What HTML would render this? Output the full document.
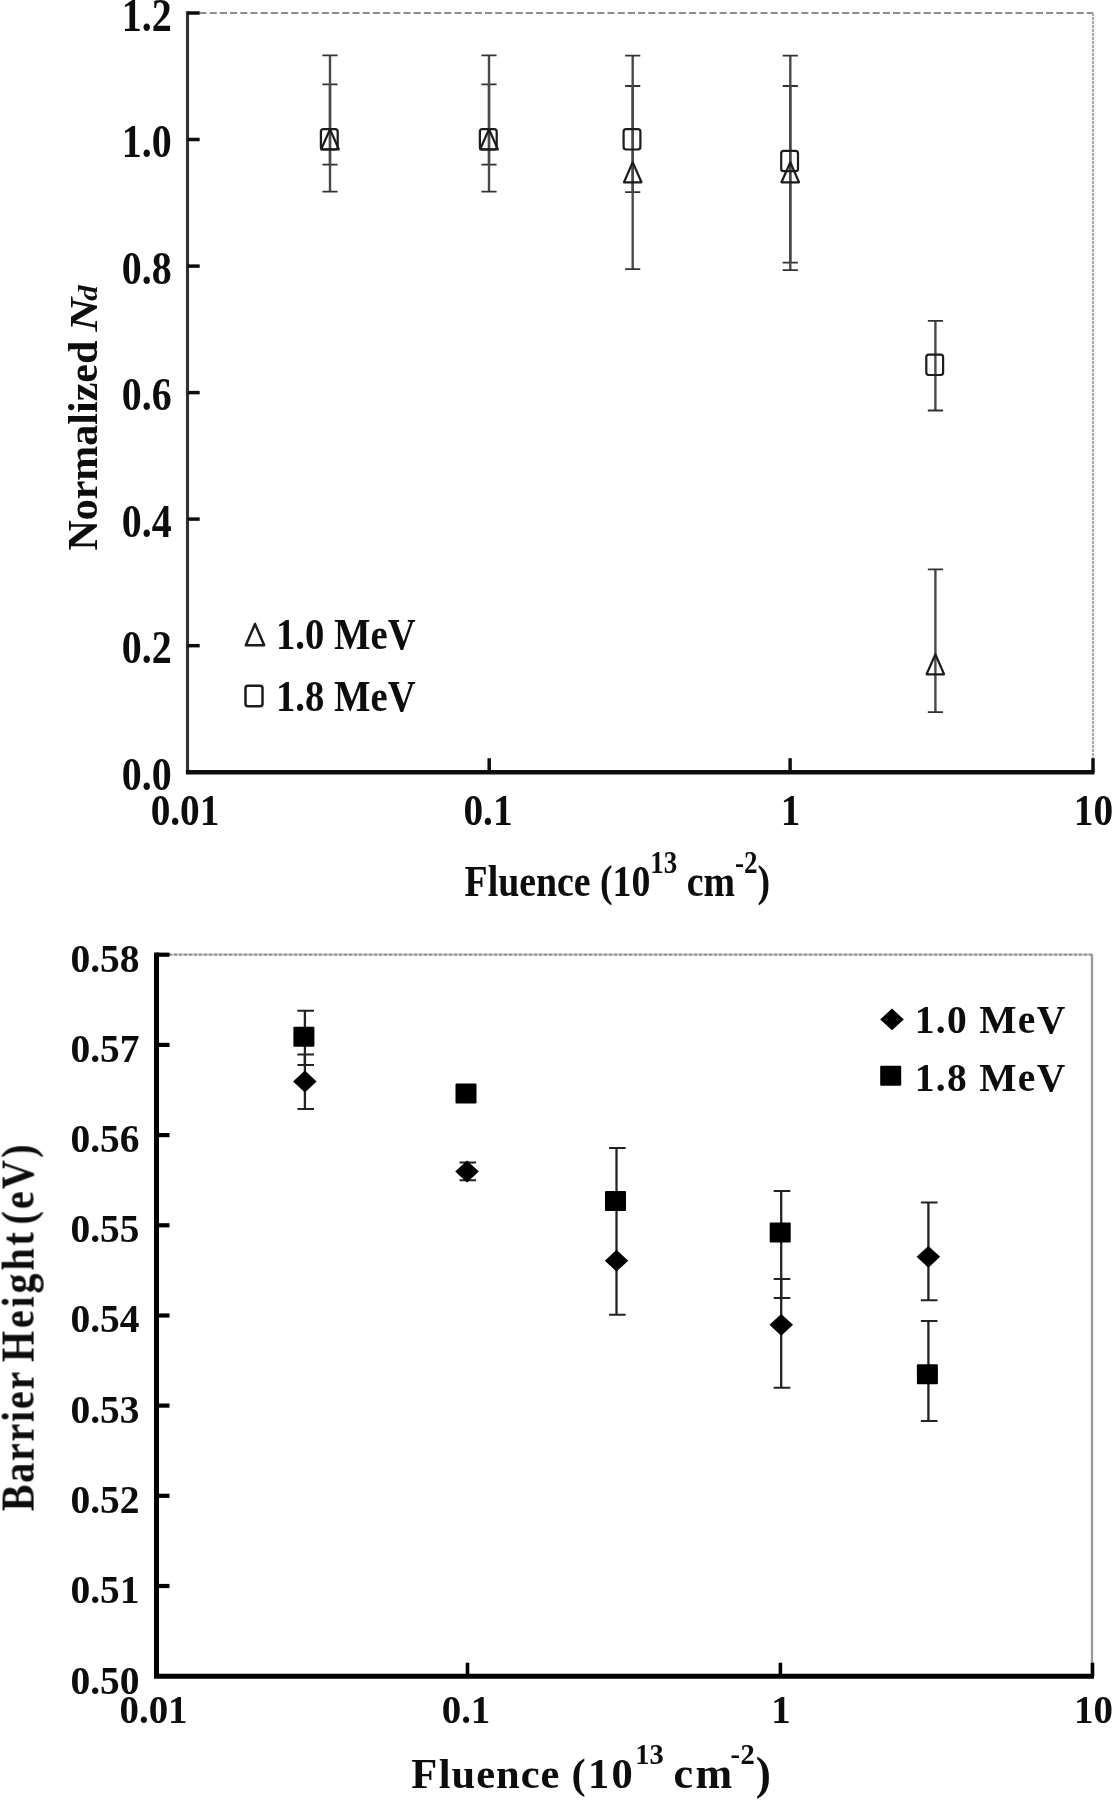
<!DOCTYPE html>
<html lang="en"><head><meta charset="utf-8"><title>Normalized Nd and Barrier Height vs Fluence</title>
<style>html,body{margin:0;padding:0;background:#fff}svg{display:block}text{fill:#0a0a0a}</style></head><body>
<svg width="1114" height="1800" viewBox="0 0 1114 1800" font-family="'Liberation Serif', 'DejaVu Serif', serif" font-weight="bold">
<rect width="1114" height="1800" fill="#fff"/>
<defs><filter id="soft" x="0" y="0" width="100%" height="100%" filterUnits="userSpaceOnUse"><feGaussianBlur stdDeviation="0.45"/></filter></defs>
<g filter="url(#soft)">
<path d="M199.5,13.0H1093.0" stroke="#8c8c8c" stroke-width="1.8" stroke-dasharray="7,3.2" fill="none"/>
<path d="M1093.0,13.0V772.2" stroke="#a8a8a8" stroke-width="2" stroke-dasharray="3,1" fill="none"/>
<path d="M187.5,11.3V772.2" stroke="#333" stroke-width="3.1" fill="none"/>
<path d="M185.9,772.2H1094.5" stroke="#111" stroke-width="4.6" fill="none"/>
<text transform="translate(171.60,789.90) scale(1.0,1.16)" font-size="39.9" text-anchor="end" >0.0</text>
<path d="M187.5,645.7H199.7" stroke="#111" stroke-width="3.5" fill="none"/>
<text transform="translate(171.60,663.37) scale(1.0,1.16)" font-size="39.9" text-anchor="end" >0.2</text>
<path d="M187.5,519.1H199.7" stroke="#111" stroke-width="3.5" fill="none"/>
<text transform="translate(171.60,536.83) scale(1.0,1.16)" font-size="39.9" text-anchor="end" >0.4</text>
<path d="M187.5,392.6H199.7" stroke="#111" stroke-width="3.5" fill="none"/>
<text transform="translate(171.60,410.30) scale(1.0,1.16)" font-size="39.9" text-anchor="end" >0.6</text>
<path d="M187.5,266.1H199.7" stroke="#111" stroke-width="3.5" fill="none"/>
<text transform="translate(171.60,283.77) scale(1.0,1.16)" font-size="39.9" text-anchor="end" >0.8</text>
<path d="M187.5,139.5H199.7" stroke="#111" stroke-width="3.5" fill="none"/>
<text transform="translate(171.60,157.23) scale(1.0,1.16)" font-size="39.9" text-anchor="end" >1.0</text>
<path d="M187.5,13.0H199.7" stroke="#111" stroke-width="3.5" fill="none"/>
<text transform="translate(171.60,30.70) scale(1.0,1.16)" font-size="39.9" text-anchor="end" >1.2</text>
<path d="M489.2,772.2V758.2" stroke="#111" stroke-width="3.5" fill="none"/>
<path d="M790.1,772.2V758.2" stroke="#111" stroke-width="3.5" fill="none"/>
<path d="M1093.0,772.2V758.2" stroke="#111" stroke-width="3.5" fill="none"/>
<text transform="translate(185.00,824.80) scale(1.0,1.14)" font-size="39.3" text-anchor="middle" >0.01</text>
<text transform="translate(488.00,824.80) scale(1.0,1.14)" font-size="39.3" text-anchor="middle" >0.1</text>
<text transform="translate(790.50,824.80) scale(1.0,1.14)" font-size="39.3" text-anchor="middle" >1</text>
<text transform="translate(1093.40,824.80) scale(1.0,1.14)" font-size="39.3" text-anchor="middle" >10</text>
<text transform="translate(464.60,896.30) scale(1.0,1.17)" font-size="37.8" text-anchor="start" >Fluence (10<tspan font-size="27" dy="-19.5">13</tspan><tspan dy="19.5"> cm</tspan><tspan font-size="27" dy="-19.5">-2</tspan><tspan dy="19.5">)</tspan></text>
<text transform="translate(96.7,550.6) rotate(-90)" font-size="42" text-anchor="start">Normalized</text>
<text transform="translate(96.7,331.5) rotate(-90) scale(1.14,1)" font-size="41" font-style="italic" text-anchor="start">N</text>
<text transform="translate(97.2,300.8) rotate(-90) scale(1.1,1)" font-size="28" font-style="italic" text-anchor="start">d</text>
<path d="M330.0,84.3V164.7" stroke="#484848" stroke-width="2.4" fill="none"/>
<path d="M322.4,84.3H337.6M322.4,164.7H337.6" stroke="#333" stroke-width="1.8" fill="none"/>
<path d="M489.0,84.3V164.7" stroke="#484848" stroke-width="2.4" fill="none"/>
<path d="M481.4,84.3H496.6M481.4,164.7H496.6" stroke="#333" stroke-width="1.8" fill="none"/>
<path d="M632.7,86.0V192.2" stroke="#484848" stroke-width="2.4" fill="none"/>
<path d="M625.1,86.0H640.3M625.1,192.2H640.3" stroke="#333" stroke-width="1.8" fill="none"/>
<path d="M790.3,86.0V262.6" stroke="#484848" stroke-width="2.4" fill="none"/>
<path d="M782.7,86.0H797.9M782.7,262.6H797.9" stroke="#333" stroke-width="1.8" fill="none"/>
<path d="M935.4,320.9V410.5" stroke="#484848" stroke-width="2.4" fill="none"/>
<path d="M927.8,320.9H943.0M927.8,410.5H943.0" stroke="#333" stroke-width="1.8" fill="none"/>
<path d="M330.0,55.4V191.6" stroke="#484848" stroke-width="2.4" fill="none"/>
<path d="M322.4,55.4H337.6M322.4,191.6H337.6" stroke="#333" stroke-width="1.8" fill="none"/>
<path d="M489.0,55.4V191.6" stroke="#484848" stroke-width="2.4" fill="none"/>
<path d="M481.4,55.4H496.6M481.4,191.6H496.6" stroke="#333" stroke-width="1.8" fill="none"/>
<path d="M632.7,55.7V269.1" stroke="#484848" stroke-width="2.4" fill="none"/>
<path d="M625.1,55.7H640.3M625.1,269.1H640.3" stroke="#333" stroke-width="1.8" fill="none"/>
<path d="M790.3,55.7V270.2" stroke="#484848" stroke-width="2.4" fill="none"/>
<path d="M782.7,55.7H797.9M782.7,270.2H797.9" stroke="#333" stroke-width="1.8" fill="none"/>
<path d="M935.4,569.4V712.1" stroke="#484848" stroke-width="2.4" fill="none"/>
<path d="M927.8,569.4H943.0M927.8,712.1H943.0" stroke="#333" stroke-width="1.8" fill="none"/>
<rect x="320.9" y="129.2" width="16.8" height="20.3" rx="2.5" fill="none" stroke="#1c1c1c" stroke-width="2.2"/>
<rect x="479.9" y="129.2" width="16.8" height="20.3" rx="2.5" fill="none" stroke="#1c1c1c" stroke-width="2.2"/>
<rect x="623.6" y="129.2" width="16.8" height="20.3" rx="2.5" fill="none" stroke="#1c1c1c" stroke-width="2.2"/>
<rect x="781.2" y="150.9" width="16.8" height="20.3" rx="2.5" fill="none" stroke="#1c1c1c" stroke-width="2.2"/>
<rect x="926.3" y="354.7" width="16.8" height="20.3" rx="2.5" fill="none" stroke="#1c1c1c" stroke-width="2.2"/>
<path d="M330.0,129.3L338.8,149.3H321.2Z" fill="none" stroke="#1c1c1c" stroke-width="2.2" stroke-linejoin="round"/>
<path d="M489.0,129.3L497.8,149.3H480.2Z" fill="none" stroke="#1c1c1c" stroke-width="2.2" stroke-linejoin="round"/>
<path d="M632.7,162.3L641.5,182.3H624.0Z" fill="none" stroke="#1c1c1c" stroke-width="2.2" stroke-linejoin="round"/>
<path d="M790.3,162.3L799.0,182.3H781.5Z" fill="none" stroke="#1c1c1c" stroke-width="2.2" stroke-linejoin="round"/>
<path d="M935.4,654.3L944.1,674.3H926.6Z" fill="none" stroke="#1c1c1c" stroke-width="2.2" stroke-linejoin="round"/>
<path d="M255.0,624.0L264.2,645.2H245.8Z" fill="none" stroke="#1c1c1c" stroke-width="2.5" stroke-linejoin="round"/>
<rect x="245.5" y="685.8" width="17" height="20.5" rx="2.5" fill="none" stroke="#1c1c1c" stroke-width="2.5"/>
<text transform="translate(276.00,649.00) scale(1.0,1.15)" font-size="38.7" text-anchor="start" >1.0 MeV</text>
<text transform="translate(276.00,711.00) scale(1.0,1.15)" font-size="38.7" text-anchor="start" >1.8 MeV</text>
<path d="M168.5,954.7H1092.5" stroke="#909090" stroke-width="2.2" stroke-dasharray="4,1" fill="none"/>
<path d="M1092.0,954.7V1676.2" stroke="#9a9a9a" stroke-width="2.3" fill="none"/>
<path d="M156.5,952.4000000000001V1676.2" stroke="#000" stroke-width="5" fill="none"/>
<path d="M154.0,1676.2H1094.0" stroke="#000" stroke-width="5" fill="none"/>
<text transform="translate(139.50,1694.20) scale(1.0,1.0)" font-size="39.5" text-anchor="end" >0.50</text>
<path d="M156.5,1586.0H169.5" stroke="#000" stroke-width="4.2" fill="none"/>
<text transform="translate(139.50,1603.01) scale(1.0,1.0)" font-size="39.5" text-anchor="end" >0.51</text>
<path d="M156.5,1495.8H169.5" stroke="#000" stroke-width="4.2" fill="none"/>
<text transform="translate(139.50,1512.83) scale(1.0,1.0)" font-size="39.5" text-anchor="end" >0.52</text>
<path d="M156.5,1405.6H169.5" stroke="#000" stroke-width="4.2" fill="none"/>
<text transform="translate(139.50,1422.64) scale(1.0,1.0)" font-size="39.5" text-anchor="end" >0.53</text>
<path d="M156.5,1315.5H169.5" stroke="#000" stroke-width="4.2" fill="none"/>
<text transform="translate(139.50,1332.45) scale(1.0,1.0)" font-size="39.5" text-anchor="end" >0.54</text>
<path d="M156.5,1225.3H169.5" stroke="#000" stroke-width="4.2" fill="none"/>
<text transform="translate(139.50,1242.26) scale(1.0,1.0)" font-size="39.5" text-anchor="end" >0.55</text>
<path d="M156.5,1135.1H169.5" stroke="#000" stroke-width="4.2" fill="none"/>
<text transform="translate(139.50,1152.08) scale(1.0,1.0)" font-size="39.5" text-anchor="end" >0.56</text>
<path d="M156.5,1044.9H169.5" stroke="#000" stroke-width="4.2" fill="none"/>
<text transform="translate(139.50,1061.89) scale(1.0,1.0)" font-size="39.5" text-anchor="end" >0.57</text>
<path d="M156.5,954.7H169.5" stroke="#000" stroke-width="4.2" fill="none"/>
<text transform="translate(139.50,971.70) scale(1.0,1.0)" font-size="39.5" text-anchor="end" >0.58</text>
<path d="M467.5,1676.2V1662.7" stroke="#000" stroke-width="3.6" fill="none"/>
<path d="M780.4,1676.2V1662.7" stroke="#000" stroke-width="3.6" fill="none"/>
<path d="M1092.5,1676.2V1662.7" stroke="#000" stroke-width="3.6" fill="none"/>
<text transform="translate(153.50,1723.00) scale(1.0,1.02)" font-size="38.9" text-anchor="middle" >0.01</text>
<text transform="translate(466.00,1723.00) scale(1.0,1.02)" font-size="38.9" text-anchor="middle" >0.1</text>
<text transform="translate(781.00,1723.00) scale(1.0,1.02)" font-size="38.9" text-anchor="middle" >1</text>
<text transform="translate(1093.40,1723.00) scale(1.0,1.02)" font-size="38.9" text-anchor="middle" >10</text>
<text transform="translate(0,1788)" font-size="42.5" letter-spacing="1"><tspan x="411.2">F</tspan><tspan x="438.8">luence</tspan><tspan x="571.6" letter-spacing="2.2">(10</tspan><tspan x="635.2" dy="-24" font-size="28.5" letter-spacing="0">13</tspan><tspan x="673.4" dy="24" font-size="44" letter-spacing="2.5">cm</tspan><tspan x="730.6" dy="-24" font-size="28.5" letter-spacing="0.5">-2</tspan><tspan x="755.8" dy="24.5" font-size="45.5">)</tspan></text>
<text transform="translate(33.4,1511.3) rotate(-90) scale(1,1.175)" font-size="40" text-anchor="start" letter-spacing="1.8">Barrier <tspan dx="-3.3" letter-spacing="2.9">Height</tspan> <tspan dx="-7.0" letter-spacing="2.2">(eV)</tspan></text>
<path d="M304.9,1010.8V1065.0" stroke="#222" stroke-width="2.3" fill="none"/>
<path d="M297.4,1010.8H314.0M297.4,1065.0H314.0" stroke="#222" stroke-width="2.0" fill="none"/>
<path d="M616.5,1148.1V1314.8" stroke="#222" stroke-width="2.3" fill="none"/>
<path d="M609.0,1148.1H625.6M609.0,1314.8H625.6" stroke="#222" stroke-width="2.0" fill="none"/>
<path d="M781.2,1190.9V1297.9" stroke="#222" stroke-width="2.3" fill="none"/>
<path d="M773.7,1190.9H790.3M773.7,1297.9H790.3" stroke="#222" stroke-width="2.0" fill="none"/>
<path d="M928.4,1320.9V1421.0" stroke="#222" stroke-width="2.3" fill="none"/>
<path d="M920.9,1320.9H937.5M920.9,1421.0H937.5" stroke="#222" stroke-width="2.0" fill="none"/>
<path d="M304.9,1054.5V1108.9" stroke="#222" stroke-width="2.3" fill="none"/>
<path d="M297.4,1054.5H314.0M297.4,1108.9H314.0" stroke="#222" stroke-width="2.0" fill="none"/>
<path d="M467.0,1162.5V1180.3" stroke="#222" stroke-width="2.3" fill="none"/>
<path d="M459.5,1162.5H476.1M459.5,1180.3H476.1" stroke="#222" stroke-width="2.0" fill="none"/>
<path d="M781.2,1279.1V1387.7" stroke="#222" stroke-width="2.3" fill="none"/>
<path d="M773.7,1279.1H790.3M773.7,1387.7H790.3" stroke="#222" stroke-width="2.0" fill="none"/>
<path d="M928.4,1202.4V1300.2" stroke="#222" stroke-width="2.3" fill="none"/>
<path d="M920.9,1202.4H937.5M920.9,1300.2H937.5" stroke="#222" stroke-width="2.0" fill="none"/>
<rect x="293.4" y="1026.8" width="21" height="20" rx="1" fill="#000"/>
<rect x="455.5" y="1083.4" width="21" height="20" rx="1" fill="#000"/>
<rect x="605.0" y="1190.9" width="21" height="20" rx="1" fill="#000"/>
<rect x="769.7" y="1222.6" width="21" height="20" rx="1" fill="#000"/>
<rect x="916.9" y="1364.2" width="21" height="20" rx="1" fill="#000"/>
<path d="M304.9,1070.6L316.6,1081.5L304.9,1092.4L293.1,1081.5Z" fill="#000"/>
<path d="M467.0,1160.6L478.8,1171.5L467.0,1182.4L455.2,1171.5Z" fill="#000"/>
<path d="M616.5,1249.8L628.2,1260.7L616.5,1271.6L604.8,1260.7Z" fill="#000"/>
<path d="M781.2,1313.9L793.0,1324.8L781.2,1335.7L769.5,1324.8Z" fill="#000"/>
<path d="M928.4,1245.9L940.1,1256.8L928.4,1267.7L916.6,1256.8Z" fill="#000"/>
<path d="M892.0,1008.5L903.8,1019.4L892.0,1030.3L880.2,1019.4Z" fill="#000"/>
<rect x="880.2" y="1065.8" width="21" height="20" rx="1" fill="#000"/>
<text transform="translate(914.80,1033.10) scale(1.0,1.0)" font-size="39.5" text-anchor="start" letter-spacing="1.3" >1.0 MeV</text>
<text transform="translate(914.80,1090.80) scale(1.0,1.0)" font-size="39.5" text-anchor="start" letter-spacing="1.3" >1.8 MeV</text>
</g>
</svg></body></html>
